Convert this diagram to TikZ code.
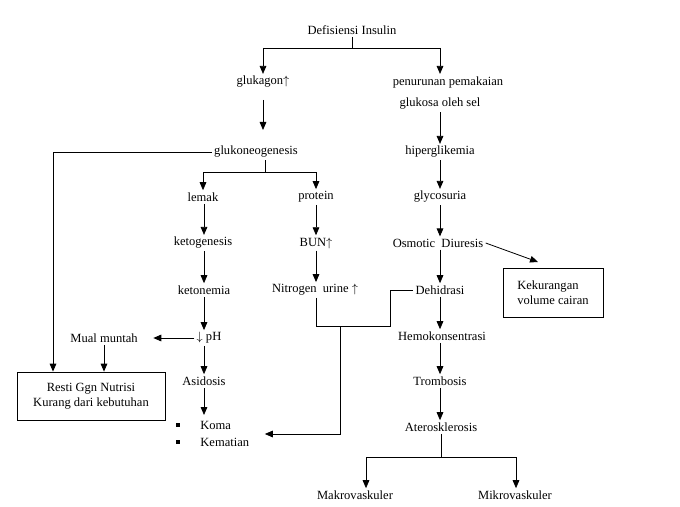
\documentclass[tikz,border=0pt]{standalone}
\usepackage{fontspec}
\setmainfont{Liberation Serif}
\usetikzlibrary{arrows.meta}
\begin{document}
\begin{tikzpicture}[x=0.75pt,y=-0.75pt,
  lbl/.style={inner sep=1.5pt,font=\fontsize{9.4}{11.5}\selectfont},
  arr/.style={-{Triangle[length=6pt,width=5pt]}},
  every path/.style={line width=0.6pt}]
  \useasboundingbox (0,0) rectangle (680,506);
  % left column
  \node[lbl] (defisiensi) at (352,30) {Defisiensi Insulin};
  \node[lbl] (glukagon) at (263,82) {glukagon$\uparrow$};
  \node[lbl] (glukoneo) at (256,152) {glukoneogenesis};
  \node[lbl] (lemak) at (203,197) {lemak};
  \node[lbl] (protein) at (316,197) {protein};
  \node[lbl] (ketogen) at (203,243) {ketogenesis};
  \node[lbl] (ketonemia) at (204,290) {ketonemia};
  \node[lbl] (ph) at (209,338) {$\downarrow$ pH};
  \node[lbl] (asidosis) at (204,381) {Asidosis};
  \node[lbl,anchor=west] (koma) at (198,425) {Koma};
  \node[lbl,anchor=west] (kematian) at (198,442) {Kematian};
  \fill (176,422.5) rectangle +(4,4);
  \fill (176,439.5) rectangle +(4,4);
  \node[lbl] (bun) at (316,243) {BUN$\uparrow$};
  \node[lbl] (nitrogen) at (315,290) {Nitrogen\ \ urine $\uparrow$};
  \node[lbl] (mual) at (104,338) {Mual muntah};
  \node[lbl,draw,align=center,minimum width=111pt,minimum height=36pt] (resti) at (91,396)
    {Resti Ggn Nutrisi\\Kurang dari kebutuhan};
  % right column
  \node[lbl] (penurunan) at (448,82) {penurunan pemakaian};
  \node[lbl] (glukosa) at (440,104) {glukosa oleh sel};
  \node[lbl] (hiper) at (440,152) {hiperglikemia};
  \node[lbl] (glyco) at (440,197) {glycosuria};
  \node[lbl] (osmotic) at (438,243) {Osmotic\ \ Diuresis};
  \node[lbl] (dehidrasi) at (440,290) {Dehidrasi};
  \node[lbl] (hemo) at (442,336) {Hemokonsentrasi};
  \node[lbl] (trombosis) at (440,381) {Trombosis};
  \node[lbl] (atero) at (441,427) {Aterosklerosis};
  \node[lbl] (makro) at (355,495) {Makrovaskuler};
  \node[lbl] (mikro) at (515,495) {Mikrovaskuler};
  \node[lbl,draw,align=left,minimum width=75pt,minimum height=37pt,inner sep=6pt] (kekurangan) at (553,293)
    {Kekurangan\\volume cairan};
  % branches
  \draw (defisiensi.south) -- (352,48);
  \draw (263,48) -- (440,48);
  \draw[arr] (263,48) -- (263,0 |- glukagon.north);
  \draw[arr] (440,48) -- (440,0 |- penurunan.north);
  \draw[arr] (263,100) -- (263,130);
  \draw[arr] (440,0 |- glukosa.south) -- (440,0 |- hiper.north);
  \draw (265,0 |- glukoneo.south) -- (265,172);
  \draw (203,172) -- (316,172);
  \draw[arr] (203,172) -- (203,0 |- lemak.north);
  \draw[arr] (316,172) -- (316,0 |- protein.north);
  \draw[arr] (204,0 |- lemak.south) -- (204,0 |- ketogen.north);
  \draw[arr] (204,0 |- ketogen.south) -- (204,0 |- ketonemia.north);
  \draw[arr] (204,0 |- ketonemia.south) -- (204,0 |- ph.north);
  \draw[arr] (204,0 |- ph.south) -- (204,0 |- asidosis.north);
  \draw[arr] (204,0 |- asidosis.south) -- (204,415);
  \draw[arr] (316,0 |- protein.south) -- (316,0 |- bun.north);
  \draw[arr] (316,0 |- bun.south) -- (316,0 |- nitrogen.north);
  \draw[arr] (440,0 |- hiper.south) -- (440,0 |- glyco.north);
  \draw[arr] (440,0 |- glyco.south) -- (440,0 |- osmotic.north);
  \draw[arr] (440,0 |- osmotic.south) -- (440,0 |- dehidrasi.north);
  \draw[arr] (440,0 |- dehidrasi.south) -- (440,0 |- hemo.north);
  \draw[arr] (440,0 |- hemo.south) -- (440,0 |- trombosis.north);
  \draw[arr] (440,0 |- trombosis.south) -- (440,0 |- atero.north);
  \draw[arr] (osmotic.east) -- (538,262);
  \draw[arr] (glukoneo.west) -- (53,0 |- glukoneo.west) -- (53,0 |- resti.north);
  \draw[arr] (ph.west) -- ([xshift=10pt]mual.east);
  \draw[arr] (mual.south) -- (mual.south |- resti.north);
  \draw (316,0 |- nitrogen.south) -- (316,326) -- (390,326) -- (390,290) -- (dehidrasi.west);
  \draw[arr] (340,326) -- (340,434) -- ([xshift=10pt]kematian.east |- 0,434);
  \draw (441,0 |- atero.south) -- (441,457);
  \draw (366,457) -- (516,457);
  \draw[arr] (366,457) -- (366,0 |- makro.north);
  \draw[arr] (516,457) -- (516,0 |- mikro.north);
\end{tikzpicture}
\end{document}
